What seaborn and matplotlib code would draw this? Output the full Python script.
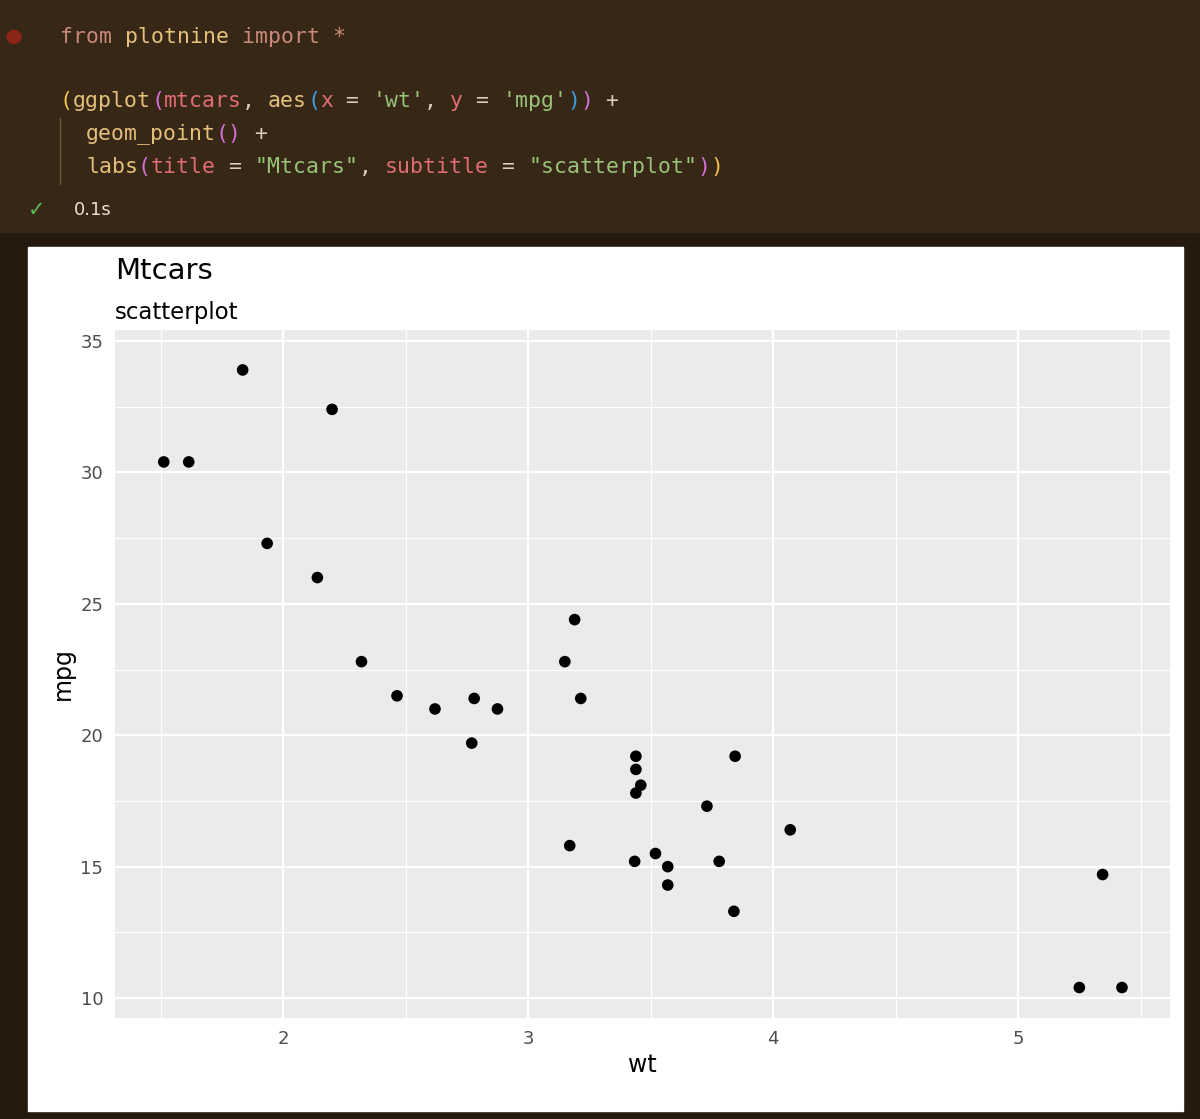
import matplotlib
matplotlib.use("Agg")
import matplotlib.pyplot as plt
import seaborn as sns
import pandas as pd
from matplotlib.patches import Rectangle, Circle
from matplotlib.lines import Line2D

wt = [2.620, 2.875, 2.320, 3.215, 3.440, 3.460, 3.570, 3.190, 3.150, 3.440, 3.440, 4.070, 3.730, 3.780,
      5.250, 5.424, 5.345, 2.200, 1.615, 1.835, 2.465, 3.520, 3.435, 3.840, 3.845, 1.935, 2.140, 1.513,
      3.170, 2.770, 3.570, 2.780]
mpg = [21.0, 21.0, 22.8, 21.4, 18.7, 18.1, 14.3, 24.4, 22.8, 19.2, 17.8, 16.4, 17.3, 15.2, 10.4, 10.4,
       14.7, 32.4, 30.4, 33.9, 21.5, 15.5, 15.2, 13.3, 19.2, 27.3, 26.0, 30.4, 15.8, 19.7, 15.0, 21.4]
xticks = [2, 3, 4, 5]
yticks = [10, 15, 20, 25, 30, 35]
df = pd.DataFrame({"wt": wt, "mpg": mpg})

W, H = 1200, 1119
sns.set_style("white")
plt.rcParams['font.family'] = ['DejaVu Sans']
fig = plt.figure(figsize=(12, 11.19), dpi=100)
fig.patch.set_facecolor("#261a0f")

def fx(x): return x / W
def fy(y): return 1 - y / H

# editor area
fig.add_artist(Rectangle((0, fy(232)), 1, 232 / H, transform=fig.transFigure, color="#372716", zorder=0))
fig.add_artist(Rectangle((fx(28), fy(1111)), (1183 - 28) / W, (1111 - 247) / H,
                         transform=fig.transFigure, color="white", zorder=0))
fig.add_artist(Circle((fx(14), fy(37)), 7 / W, transform=fig.transFigure, color="#8b2516", zorder=1))
fig.add_artist(Line2D([fx(60), fx(60)], [fy(118), fy(184)], transform=fig.transFigure, color="#6b5a40", lw=1))

CW = 13.0
Y, PK, GR, RD, WH, MG, BL, DM = "#f2c14e", "#e06c75", "#98c379", "#e05561", "#d8cfc0", "#d670d6", "#3aa0e0", "#c9897a"
lines = [
    (37, 60, [("from ", DM), ("plotnine", "#e5c07b"), (" import *", DM)]),
    (101, 60, [("(", Y), ("ggplot", "#e5c07b"), ("(", MG), ("mtcars", PK), (", ", WH), ("aes", "#e5c07b"),
               ("(", BL), ("x", PK), (" = ", WH), ("'wt'", GR), (", ", WH), ("y", PK), (" = ", WH),
               ("'mpg'", GR), (")", BL), (")", MG), (" +", WH)]),
    (134, 86, [("geom_point", "#e5c07b"), ("()", MG), (" +", WH)]),
    (167, 86, [("labs", "#e5c07b"), ("(", MG), ("title", PK), (" = ", WH), ('"Mtcars"', GR), (", ", WH),
               ("subtitle", PK), (" = ", WH), ('"scatterplot"', GR), (")", MG), (")", Y)]),
]
for y, x0, toks in lines:
    col = 0
    for t, c in toks:
        fig.text(fx(x0 + col * CW), fy(y), t, color=c, family="DejaVu Sans Mono", fontsize=15.5, va="center")
        col += len(t)
fig.text(fx(28), fy(210), "✓", color="#5fb85f", fontsize=15, va="center", ha="left")
fig.text(fx(74), fy(210), "0.1s", color="#e8e0d0", fontsize=13, va="center")

# plot
ax = fig.add_axes([fx(115), fy(1018), (1170 - 115) / W, (1018 - 330) / H])
ax.set_facecolor("#ebebeb")
for v in [1.5, 2.5, 3.5, 4.5, 5.5]:
    ax.axvline(v, color="white", lw=0.8, zorder=0)
for v in [12.5, 17.5, 22.5, 27.5, 32.5]:
    ax.axhline(v, color="white", lw=0.8, zorder=0)
for v in xticks:
    ax.axvline(v, color="white", lw=1.6, zorder=0)
for v in yticks:
    ax.axhline(v, color="white", lw=1.6, zorder=0)
sns.scatterplot(data=df, x="wt", y="mpg", ax=ax, color="black", s=70, edgecolor="none", zorder=3)
ax.set_xlim(1.314, 5.620)
ax.set_ylim(9.24, 35.42)
ax.set_xticks(xticks)
ax.set_yticks(yticks)
for s in ax.spines.values():
    s.set_visible(False)
ax.tick_params(axis="both", length=5, width=1, color="#333333", labelcolor="#4d4d4d", labelsize=13, direction="out")
ax.set_xlabel("wt", fontsize=17, color="black")
ax.set_ylabel("mpg", fontsize=17, color="black")
fig.text(fx(115), fy(271), "Mtcars", fontsize=21, va="center", ha="left", color="black")
fig.text(fx(115), fy(313), "scatterplot", fontsize=16.5, va="center", ha="left", color="black")

fig.savefig("out.png", dpi=100, facecolor=fig.get_facecolor())
